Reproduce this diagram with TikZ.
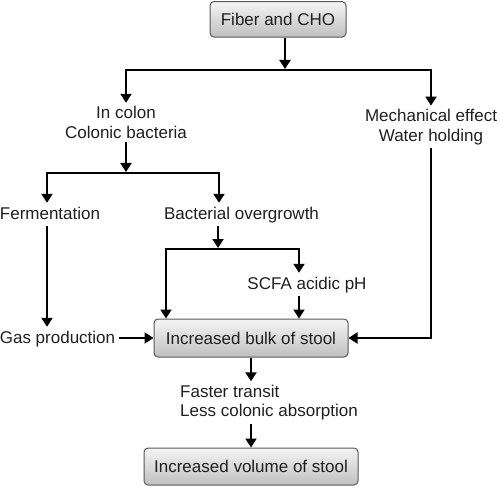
\documentclass[tikz,border=0pt]{standalone}
\usepackage{fontspec}
\setmainfont{Liberation Sans}
\usetikzlibrary{arrows.meta}
\begin{document}
\begin{tikzpicture}[x=1pt,y=-1pt,
  every node/.style={font=\fontsize{17}{19.5}\selectfont, text=black!88},
  txt/.style={inner xsep=4pt, inner ysep=3.5pt, text height=12.5pt, text depth=3.6pt},
  mtxt/.style={inner xsep=4pt, inner ysep=3.5pt},
  box/.style={draw=black!65, line width=1pt, rounded corners=4pt, top color=black!4, bottom color=black!25, text height=12.2pt, text depth=0pt, inner sep=0pt},
  arr/.style={line width=2pt, -{Triangle[length=9pt,width=11pt]}},
  ln/.style={line width=2pt}]
\useasboundingbox (0,0) rectangle (500,486);
% nodes
\node[box, minimum width=136pt, minimum height=35.5pt] (fiber) at (278,19.3) {Fiber and CHO};
\node[mtxt, align=center] (colon) at (126,122.5) {In colon\\Colonic bacteria};
\node[mtxt, align=center] (mech) at (431,127) {Mechanical effect\\Water holding};
\node[txt, anchor=base] (ferm) at (50,219) {Fermentation};
\node[txt, anchor=base] (bact) at (241.5,219) {Bacterial overgrowth};
\node[txt, anchor=base] (scfa) at (307,289) {SCFA acidic pH};
\node[txt, anchor=base] (gas) at (57.5,343) {Gas production};
\node[box, minimum width=194pt, minimum height=38pt] (bulk) at (251,338) {Increased bulk of stool};
\node[mtxt, align=left, anchor=west] (fast) at (176,402.7) {Faster transit\\Less colonic absorption};
\node[box, minimum width=214pt, minimum height=37pt] (vol) at (251,466.5) {Increased volume of stool};
% junctions
\coordinate (j1) at (285,70);
\coordinate (j1L) at (colon.north |- j1);
\coordinate (j1R) at (mech.north |- j1);
\coordinate (j2) at (126,173);
\coordinate (j2L) at (47,173);
\coordinate (j2R) at (219,173);
\coordinate (j3) at (218,249);
\coordinate (j3L) at (166,249);
\coordinate (j3R) at (299,249);
% connectors
\draw[arr, shorten >=1pt] (fiber.south -| j1) -- (j1);
\draw[arr] (j1) -- (j1L) -- (colon.north);
\draw[arr] (j1) -- (j1R) -- (mech.north);
\draw[arr, shorten >=1pt] (colon.south) -- (j2);
\draw[arr] (j2) -- (j2L) -- (j2L |- ferm.north);
\draw[arr] (j2) -- (j2R) -- (j2R |- bact.north);
\draw[arr] (j2L |- ferm.south) -- (j2L |- gas.north);
\draw[arr] (gas.east |- bulk.west) -- (bulk.west);
\draw[arr, shorten >=1pt] (j3 |- bact.south) -- (j3);
\draw[arr] (j3) -- (j3L) -- (j3L |- bulk.north);
\draw[arr] (j3) -- (j3R) -- (j3R |- scfa.north);
\draw[arr] (j3R |- scfa.south) -- (j3R |- bulk.north);
\draw[arr] (mech.south) |- (bulk.east);
\draw[arr] (bulk.south) -- (bulk.south |- fast.north);
\draw[arr] (vol.north |- fast.south) -- (vol.north);
\end{tikzpicture}
\end{document}
